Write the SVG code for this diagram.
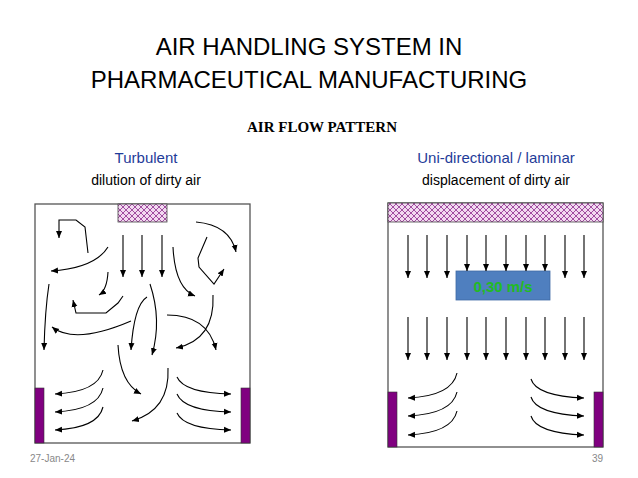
<svg xmlns="http://www.w3.org/2000/svg" width="638" height="478" viewBox="0 0 638 478">
<defs>
<pattern id="hatch" width="6" height="6" patternUnits="userSpaceOnUse">
<rect width="6" height="6" fill="#f2d9f0"/>
<path d="M0,0L6,6M6,0L0,6" stroke="#8b2a8b" stroke-width="0.8"/>
</pattern>
<marker id="ah" markerWidth="8" markerHeight="8" refX="7" refY="4" orient="auto" markerUnits="userSpaceOnUse">
<path d="M0,1L7,4L0,7z" fill="#000"/>
</marker>
</defs>
<style>
.room{fill:#fff;stroke:#555;stroke-width:1.3}
.filt{fill:url(#hatch);stroke:#444;stroke-width:0.8}
.bar{fill:#800080;stroke:#333;stroke-width:0.6}
.a{fill:none;stroke:#000;stroke-width:1.1;marker-end:url(#ah)}
text{font-family:"Liberation Sans",Arial,sans-serif}
</style>
<rect width="638" height="478" fill="#fff"/>
<text x="309" y="55" font-size="24" text-anchor="middle">AIR HANDLING SYSTEM IN</text>
<text x="309" y="88" font-size="24" text-anchor="middle">PHARMACEUTICAL MANUFACTURING</text>
<text x="322" y="132" font-size="15" font-weight="bold" text-anchor="middle" style="font-family:'Liberation Serif',serif">AIR FLOW PATTERN</text>
<text x="146" y="163" font-size="15" fill="#1f3c99" text-anchor="middle">Turbulent</text>
<text x="146" y="185" font-size="14" text-anchor="middle">dilution of dirty air</text>
<text x="496" y="163" font-size="15" fill="#1f3c99" text-anchor="middle">Uni-directional / laminar</text>
<text x="496" y="185" font-size="14" text-anchor="middle">displacement of dirty air</text>
<text x="30" y="462" font-size="10" fill="#888">27-Jan-24</text>
<text x="603" y="462" font-size="10" fill="#888" text-anchor="end">39</text>

<g id="turbulent-room">
<rect class="room" x="35" y="204" width="215" height="239"/>
<rect class="filt" x="118" y="204" width="49" height="18"/>
<rect class="bar" x="35" y="388" width="9" height="55"/>
<rect class="bar" x="241" y="388" width="9" height="55"/>
</g>
<g id="laminar-room">
<rect class="room" x="388" y="203" width="215" height="244"/>
<rect class="filt" x="388" y="203" width="215" height="19"/>
<rect class="bar" x="388" y="392" width="9" height="55"/>
<rect class="bar" x="594" y="392" width="9" height="55"/>
</g>
<g id="velocity-label">
<rect x="456" y="271" width="94" height="29" fill="#4f7fbf" stroke="#3f6aa5" stroke-width="0.8"/>
<text x="503" y="292" font-size="15" font-weight="bold" fill="#22bb22" text-anchor="middle">0,30 m/s</text>
</g>
<g id="connectors">
<path class="a" d="M88,253L85,227L76,220L59,220L59,238"/>
<path class="a" d="M108,247Q95,268 51,271"/>
<path class="a" d="M123,235V277"/>
<path class="a" d="M142,235V277"/>
<path class="a" d="M162,235V277"/>
<path class="a" d="M173,247Q175,288 195,296"/>
<path class="a" d="M196,222Q230,225 236,252"/>
<path class="a" d="M207,237L198,258L199,267L214,284L224,269"/>
<path class="a" d="M49,284Q45,310 44,350"/>
<path class="a" d="M108,272Q107,290 99,295"/>
<path class="a" d="M123,296L118,303L106,313L76,313L73,300"/>
<path class="a" d="M131,321Q75,345 52,327"/>
<path class="a" d="M147,297Q134,305 131,350"/>
<path class="a" d="M150,284Q162,320 152,355"/>
<path class="a" d="M213,295Q215,340 176,348"/>
<path class="a" d="M167,315Q208,315 216,350"/>
<path class="a" d="M118,345Q120,383 141,394"/>
<path class="a" d="M168,368Q170,410 132,421"/>
<path class="a" d="M103,370Q98,392 55,394"/>
<path class="a" d="M103,388Q98,410 55,412"/>
<path class="a" d="M103,407Q98,428 55,430"/>
<path class="a" d="M177,377Q184,393 231,394"/>
<path class="a" d="M177,394Q184,411 231,412"/>
<path class="a" d="M177,413Q184,429 231,430"/>
<g id="laminar-arrows">
<path class="a" d="M408,235V278"/><path class="a" d="M427,235V278"/><path class="a" d="M447,235V278"/>
<path class="a" d="M467,235V271"/><path class="a" d="M486,235V271"/><path class="a" d="M506,235V271"/><path class="a" d="M526,235V271"/><path class="a" d="M545,235V271"/>
<path class="a" d="M565,235V278"/><path class="a" d="M584,235V278"/>
<path class="a" d="M408,317V360"/><path class="a" d="M427,317V360"/><path class="a" d="M447,317V360"/><path class="a" d="M467,317V360"/><path class="a" d="M486,317V360"/>
<path class="a" d="M506,317V360"/><path class="a" d="M526,317V360"/><path class="a" d="M545,317V360"/><path class="a" d="M565,317V360"/><path class="a" d="M584,317V360"/>
<path class="a" d="M457,373Q452,396 408,398"/>
<path class="a" d="M457,392Q452,414 408,416"/>
<path class="a" d="M457,411Q452,433 408,435"/>
<path class="a" d="M531,379Q536,396 584,398"/>
<path class="a" d="M531,397Q536,414 584,416"/>
<path class="a" d="M531,416Q536,433 584,435"/>
</g>
</g>
</svg>
